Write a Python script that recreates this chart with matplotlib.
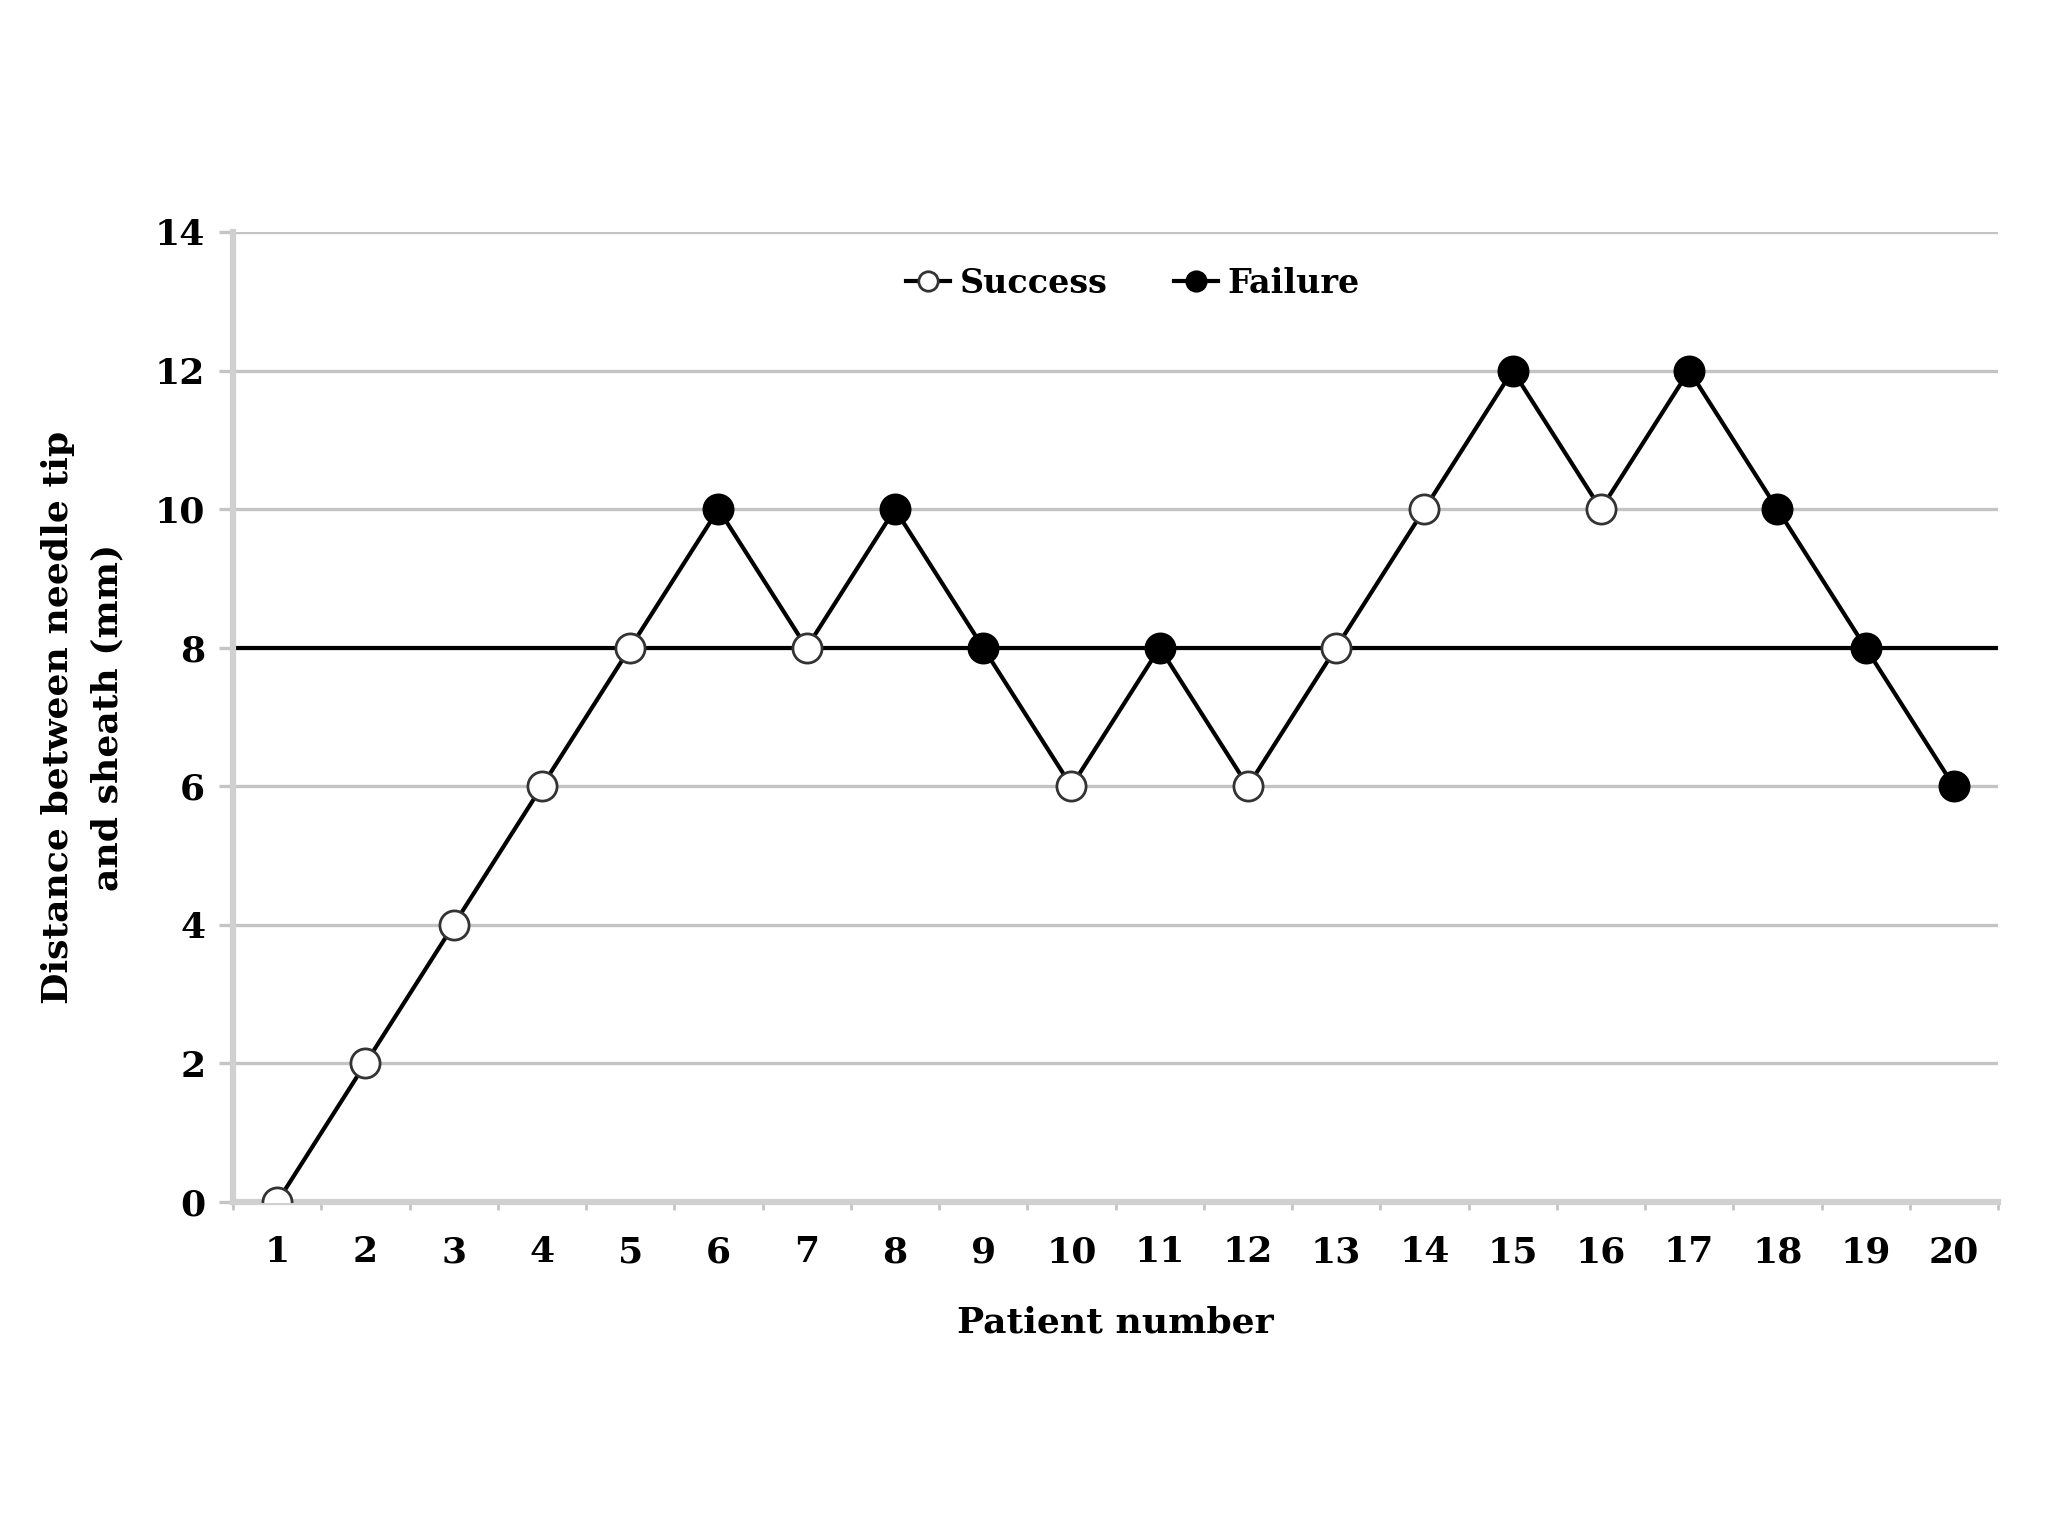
import numpy as np
import matplotlib
matplotlib.use("Agg")
import matplotlib.pyplot as plt
from matplotlib.lines import Line2D

patients = list(range(1, 21))
distance = [0, 2, 4, 6, 8, 10, 8, 10, 8, 6, 8, 6, 8, 10, 12, 10, 12, 10, 8, 6]
# True = success (open circle), False = failure (filled)
success = [True, True, True, True, True, False, True, False, False, True,
           False, True, True, True, False, True, False, False, False, False]
threshold = 8
y_ticks = [0, 2, 4, 6, 8, 10, 12, 14]

plt.rcParams['font.family'] = ['DejaVu Serif']
plt.rcParams['font.weight'] = 'bold'

fig = plt.figure(figsize=(20.48, 15.35), dpi=100)
ax = fig.add_axes([0.1138, 0.2169, 0.8618, 0.632])

grid_col = '#c4c4c4'
for v in y_ticks[1:]:
    ax.axhline(v, color=grid_col, lw=2.4, zorder=1)

ax.axhline(threshold, color='black', lw=3.0, zorder=2)

x = np.array(patients)
y = np.array(distance)
s = np.array(success)
ax.plot(x, y, color='black', lw=3.0, zorder=3)
ax.plot(x[s], y[s], 'o', ms=21, mfc='white', mec='#333333', mew=2.0, zorder=4)
ax.plot(x[~s], y[~s], 'o', ms=21, mfc='black', mec='black', mew=2.0, zorder=4)

ax.set_xlim(0.5, 20.5)
ax.set_ylim(0, 14)
ax.set_yticks(y_ticks)
ax.set_xticks(patients)
ax.set_xticks(np.arange(0.5, 21, 1), minor=True)
ax.tick_params(axis='y', length=10, width=2.4, color=grid_col, pad=10, labelsize=26)
ax.tick_params(axis='x', which='major', length=0, pad=24, labelsize=26)
ax.tick_params(axis='x', which='minor', length=6, width=2, color=grid_col)

for side in ['top', 'right']:
    ax.spines[side].set_visible(False)
for side in ['left', 'bottom']:
    ax.spines[side].set_color('#d0d0d0')
    ax.spines[side].set_linewidth(4.5)

ax.set_xlabel('Patient number', fontsize=26, fontweight='bold', labelpad=26)
ax.set_ylabel('Distance between needle tip\nand sheath (mm)', fontsize=26,
              fontweight='bold', labelpad=22, linespacing=1.55)

handles = [
    Line2D([], [], color='black', lw=3, marker='o', ms=14, mfc='white', mec='#333333', mew=2),
    Line2D([], [], color='black', lw=3, marker='o', ms=14, mfc='black', mec='black', mew=2),
]
ax.legend(handles, ['Success', 'Failure'], loc='upper center', bbox_to_anchor=(0.51, 0.995),
          ncol=2, frameon=False, fontsize=24, handlelength=1.3, columnspacing=2.0,
          handletextpad=0.3)

fig.savefig('out.png', dpi=100, facecolor='white')
